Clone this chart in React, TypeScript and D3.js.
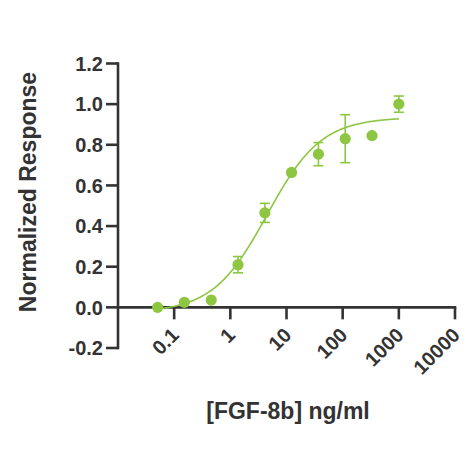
import { useEffect, useRef } from "react";
import * as d3 from "d3";

// concentrations (ng/ml), 3-fold dilution series
const concentrations = [0.0508, 0.152, 0.457, 1.37, 4.12, 12.3, 37.0, 111, 333, 1000];
const responses = [0.0, 0.025, 0.036, 0.21, 0.465, 0.664, 0.754, 0.83, 0.845, 1.0];
const errors = [0, 0, 0, 0.04, 0.047, 0, 0.057, 0.118, 0, 0.04];

const xTicks = [0.1, 1, 10, 100, 1000, 10000];
const xTickLabels = ["0.1", "1", "10", "100", "1000", "10000"];
const yTicks = [-0.2, 0.0, 0.2, 0.4, 0.6, 0.8, 1.0, 1.2];

// 4PL fit parameters
const fitBottom = -0.025;
const fitTop = 0.935;
const fitEC50 = 4.5;
const fitHill = 0.9;

export default function App() {
  const svgRef = useRef<SVGSVGElement>(null);

  useEffect(() => {
    if (!svgRef.current) return;
    d3.select(svgRef.current).selectAll("*").remove();

    const width = 474;
    const height = 474;
    const green = "#8dc641";
    const ink = "#333333";
    const font = "'Liberation Sans', Arial, sans-serif";

    const svg = d3.select(svgRef.current)
      .attr("width", width)
      .attr("height", height)
      .style("font-family", font);

    const x = d3.scaleLog().domain([0.01, 10000]).range([118, 455]);
    const y = d3.scaleLinear().domain([-0.2, 1.2]).range([348, 63.5]);

    // Y axis
    svg.append("line")
      .attr("x1", x(0.01)).attr("x2", x(0.01))
      .attr("y1", y(-0.2) + 1.3).attr("y2", y(1.2) - 1.3)
      .attr("stroke", ink).attr("stroke-width", 2.6);

    svg.selectAll(".ytick")
      .data(yTicks)
      .enter().append("line")
      .attr("x1", x(0.01) - 12).attr("x2", x(0.01))
      .attr("y1", d => y(d)).attr("y2", d => y(d))
      .attr("stroke", ink).attr("stroke-width", 2.6);

    svg.selectAll(".ylab")
      .data(yTicks)
      .enter().append("text")
      .attr("x", x(0.01) - 15)
      .attr("y", d => y(d))
      .attr("dy", "0.36em")
      .attr("text-anchor", "end")
      .style("font-size", "20px")
      .style("font-weight", "bold")
      .style("fill", ink)
      .text(d => d.toFixed(1));

    // X axis at y = 0
    svg.append("line")
      .attr("x1", x(0.01) - 1.3).attr("x2", x(10000) + 1.3)
      .attr("y1", y(0)).attr("y2", y(0))
      .attr("stroke", ink).attr("stroke-width", 2.6);

    svg.selectAll(".xtick")
      .data(xTicks)
      .enter().append("line")
      .attr("x1", d => x(d)).attr("x2", d => x(d))
      .attr("y1", y(0)).attr("y2", y(0) + 12)
      .attr("stroke", ink).attr("stroke-width", 2.6);

    svg.selectAll(".xlab")
      .data(xTicks)
      .enter().append("text")
      .attr("transform", d => `translate(${x(d) + 6},${y(0) + 29}) rotate(-45)`)
      .attr("text-anchor", "end")
      .style("font-size", "20px")
      .style("font-weight", "bold")
      .style("fill", ink)
      .text((d, i) => xTickLabels[i]);

    // Axis titles
    svg.append("text")
      .attr("transform", `translate(36,192) rotate(-90)`)
      .attr("text-anchor", "middle")
      .style("font-size", "23px")
      .style("font-weight", "bold")
      .style("fill", ink)
      .text("Normalized Response");

    svg.append("text")
      .attr("x", 288)
      .attr("y", 419)
      .attr("text-anchor", "middle")
      .style("font-size", "23px")
      .style("font-weight", "bold")
      .style("fill", ink)
      .text("[FGF-8b] ng/ml");

    // Fitted curve
    const fit = (c: number) => fitBottom + (fitTop - fitBottom) / (1 + Math.pow(fitEC50 / c, fitHill));
    const lo = Math.log10(concentrations[0]);
    const hi = Math.log10(concentrations[concentrations.length - 1]);
    const curveX = d3.range(0, 201).map(i => Math.pow(10, lo + (i / 200) * (hi - lo)));
    svg.append("path")
      .attr("d", d3.line<number>().x(c => x(c)).y(c => y(fit(c)))(curveX) || "")
      .attr("fill", "none")
      .attr("stroke", green)
      .attr("stroke-width", 1.6);

    // Error bars
    const pts = concentrations.map((c, i) => ({ c, v: responses[i], e: errors[i] }));
    const eb = svg.selectAll(".err")
      .data(pts.filter(p => p.e > 0))
      .enter().append("g");
    eb.append("line")
      .attr("x1", p => x(p.c)).attr("x2", p => x(p.c))
      .attr("y1", p => y(p.v - p.e)).attr("y2", p => y(p.v + p.e))
      .attr("stroke", green).attr("stroke-width", 1.6);
    [1, -1].forEach(s => {
      eb.append("line")
        .attr("x1", p => x(p.c) - 5).attr("x2", p => x(p.c) + 5)
        .attr("y1", p => y(p.v + s * p.e)).attr("y2", p => y(p.v + s * p.e))
        .attr("stroke", green).attr("stroke-width", 1.6);
    });

    // Points
    svg.selectAll(".pt")
      .data(pts)
      .enter().append("circle")
      .attr("cx", p => x(p.c))
      .attr("cy", p => y(p.v))
      .attr("r", 5.6)
      .attr("fill", green);
  }, []);

  return <svg ref={svgRef} style={{ display: "block", position: "absolute", left: 0, top: 0 }}></svg>;
}
